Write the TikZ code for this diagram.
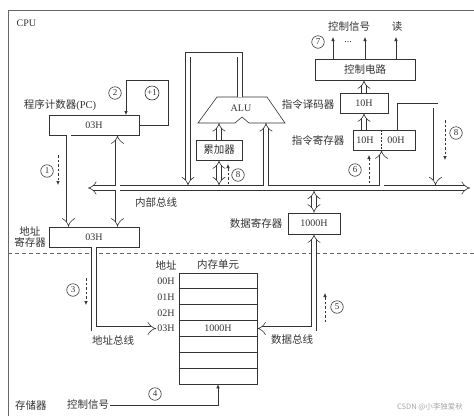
\documentclass[tikz,border=0pt]{standalone}
\usepackage{fontspec}
\setmainfont{Liberation Serif}
\newfontfamily\cjk{Noto Sans CJK SC}
\usetikzlibrary{arrows.meta,calc}
\begin{document}
\begin{tikzpicture}[x=1pt,y=-1pt,color=black!80,line width=0.6pt,
    font=\fontsize{10}{11}\selectfont,>={Implies[scale=1.8]}]
  \tikzstyle{box}=[draw,inner sep=0pt]
  \tikzstyle{txt}=[inner sep=1pt,font=\cjk\fontsize{10.5}{11}\selectfont]
  \tikzstyle{num}=[circle,draw,inner sep=0pt,minimum size=12.5pt,font=\fontsize{9}{9}\selectfont]
  \tikzstyle{bus}=[draw,double,double distance=4pt,line width=0.6pt]
  \tikzstyle{buscore}=[draw=white,line width=4pt]
  \tikzstyle{sig}=[draw,-{Latex[length=4pt,width=3.5pt]}]
  \tikzstyle{flow}=[sig,dash pattern=on 2.5pt off 2pt]
  \useasboundingbox (0,0) rectangle (474,416);
  % frame
  \draw[black!60] (8,416) |- (474,10);
  \draw[black!60,dash pattern=on 4pt off 3pt] (8,253) -- (474,253);
  \node[anchor=west] (cpu) at (13,23) {CPU};
  % program counter and address register
  \node[box,minimum width=90pt,minimum height=20pt] (pc) at (94,125) {03H};
  \node[txt] (pclabel) at (60,105) {程序计数器{\rmfamily(PC)}};
  \node[num,minimum size=14pt] (inc) at (152,93) {+1};
  \node[num] (n2) at (115,93) {2};
  \coordinate (loop) at (168,80);
  \coordinate (pcin) at (126,115);
  \draw[sig] (pc.east) -| (loop) -| (pcin);
  \node[box,minimum width=90pt,minimum height=20pt] (ar) at (94,237) {03H};
  \node[txt,align=center] (arlabel) at (30,237) {地址\\寄存器};
  % ALU and accumulator
  \draw (217,97) -- (267,97) -- (285,123) -- (249,123) -- (242,117) -- (235,123) -- (198,123) -- cycle;
  \node (alu) at (241,108) {ALU};
  \coordinate (aluout) at (240,97);
  \coordinate (aluloop) at (188,54.5);
  \coordinate (aluinA) at (219,123);
  \coordinate (aluinB) at (266,123);
  \node[box,minimum width=46pt,minimum height=20pt,font=\cjk\fontsize{10.5}{11}\selectfont] (acc) at (219,150) {累加器};
  % control unit
  \node[box,minimum width=100pt,minimum height=21pt,font=\cjk\fontsize{10.5}{11}\selectfont] (ctrl) at (365,69.5) {控制电路};
  \node[box,minimum width=48pt,minimum height=20pt] (dec) at (364,103) {10H};
  \node[txt] (declabel) at (308,105) {指令译码器};
  \node[box,minimum width=62pt,minimum height=20pt] (ir) at (384,140) {};
  \draw[dash pattern=on 2pt off 1.5pt] (ir.north -| 381.5,0) -- (ir.south -| 381.5,0);
  \node (irop1) at (365,140) {10H};
  \node (irop2) at (396,140) {00H};
  \node[txt] (irlabel) at (318,140) {指令寄存器};
  \coordinate (irop) at (435.5,105.5);
  \coordinate (out1) at (333,37);
  \coordinate (out2) at (365,37);
  \coordinate (out3) at (396,37);
  \foreach \o in {out1,out2,out3}
    \draw[sig] (ctrl.north -| \o) -- (\o);
  \node[txt] (ctrlsig) at (349,27) {控制信号};
  \node[txt] (read) at (397,27) {读};
  \node (dots) at (348,42) {...};
  \node[num] (n7) at (318,42) {7};
  % data register
  \node[box,minimum width=52pt,minimum height=21pt] (dr) at (314,223.5) {1000H};
  \node[txt] (drlabel) at (256,223) {数据寄存器};
  % memory
  \node[box,minimum width=78pt,minimum height=111pt] (mem) at (218,328.5) {1000H};
  \foreach \i in {1,...,6}
    \draw ($(mem.north west)+(0,\i*15.857)$) -- ($(mem.north east)+(0,\i*15.857)$);
  \node[txt] (addrhead) at (166,265) {地址};
  \node[txt] (cellhead) at (218,265) {内存单元};
  \foreach \a/\y in {00/281,01/297,02/313,03/328.5}
    \node[inner sep=1pt] (a\a) at (166,\y) {\a H};
  \node[txt] (memlabel) at (31,405) {存储器};
  \node[txt] (memsig) at (88,405) {控制信号};
  \draw[sig] (memsig.east) -| (mem.south);
  \node[num] (n4) at (155,394) {4};
  % internal bus
  \coordinate (busL) at (88,188);
  \coordinate (busR) at (470,188);
  \coordinate (bustop) at (0,185.4);
  \coordinate (busbot) at (0,190.6);
  \coordinate (jpcl) at (68.5,188);
  \coordinate (jpc) at (117.5,188);
  \coordinate (jout) at (188,188);
  \coordinate (jacc) at (219,188);
  \coordinate (jalu) at (266,188);
  \coordinate (jdr) at (314,188);
  \coordinate (jir) at (381.5,188);
  \coordinate (jop) at (435.5,188);
  \draw[bus,<->] (busL) -- (busR);
  \node[txt] (buslabel) at (156,202) {内部总线};
  \draw[bus,->] (pc.south -| jpcl) -- (ar.north -| jpcl);
  \draw[bus,<->] (pc.south -| jpc) -- (ar.north -| jpc);
  \draw[bus,->] (aluout) |- (aluloop) -- (jout |- bustop);
  \draw[bus,->] (acc.north) -- (aluinA);
  \draw[bus,<->] (acc.south) -- (jacc |- bustop);
  \draw[bus,->] (jalu) -- (aluinB);
  \draw[bus,<->] (jdr |- busbot) -- (dr.north);
  \draw[bus,->] (jir) -- (ir.south -| jir);
  \draw[bus,->] (ir.north -| dec.south) -- (dec.south);
  \draw[bus,->] (dec.north) -- (ctrl.south -| dec.north);
  \draw[bus,->] ($(ir.north)+(15.5,0)$) |- (irop) -- (jop |- bustop);
  % open the junctions
  \draw[buscore] ([xshift=12pt]busL) -- ([xshift=-12pt]busR);
  \draw[buscore] ([yshift=5pt]jpc) -- ([yshift=-5pt]jpc);
  \draw[buscore] (jalu) -- ([yshift=5pt]jalu);
  \draw[buscore] (jir) -- ([yshift=5pt]jir);
  % address and data bus
  \draw[bus,->] (ar.south) |- (a03.west);
  \node[txt] (abus) at (113,340) {地址总线};
  \draw[bus,<->] (dr.south) |- (mem.east);
  \node[txt] (dbus) at (292,340) {数据总线};
  % steps
  \node[num] (n1) at (47,171) {1};
  \draw[flow] (n1) ++(11,-16) -- ++(0,30);
  \node[num] (n3) at (73,290) {3};
  \draw[flow] (n3) ++(13,-12) -- ++(0,27);
  \node[num] (n5) at (337,307) {5};
  \draw[flow] (n5) ++(-12,15) -- ++(0,-29);
  \node[num] (n6) at (355,170) {6};
  \draw[flow] (n6) ++(14,13) -- ++(0,-28);
  \node[num] (n8a) at (238,175) {8};
  \draw[flow] (n8a) ++(-10,9) -- ++(0,-20);
  \node[num] (n8b) at (456,133) {8};
  \draw[flow] (n8b) ++(-11,-13) -- ++(0,40);
  \node[text=black!35,font=\cjk\fontsize{7.5}{8}\selectfont] (mark) at (430,407) {CSDN @小李独爱秋};
\end{tikzpicture}
\end{document}
